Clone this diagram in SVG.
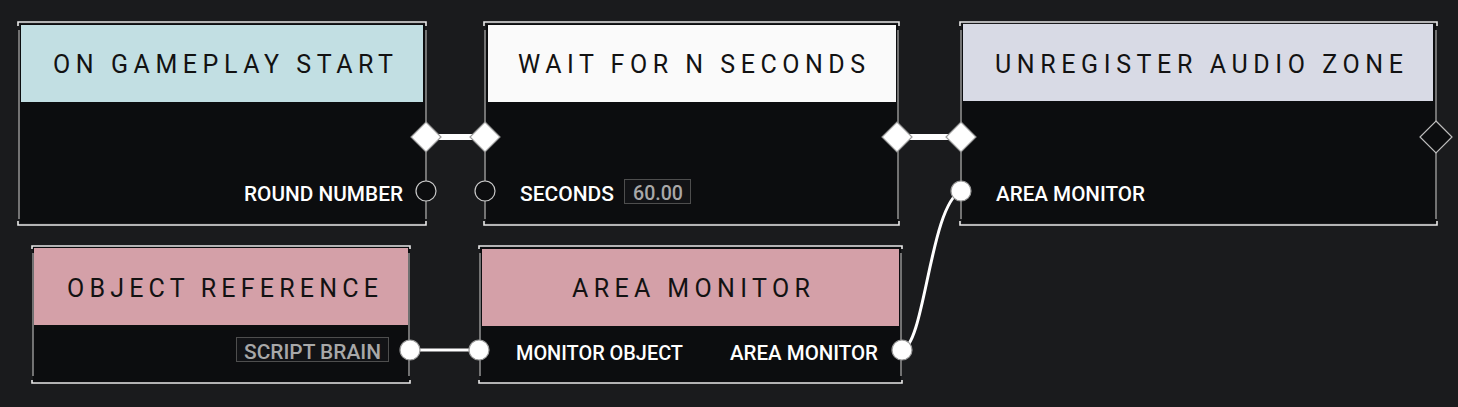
<svg xmlns="http://www.w3.org/2000/svg" width="1458" height="407" viewBox="0 0 1458 407">
<style>
.body{fill:#0c0d0f}
.edge{fill:none;stroke:#e8e8e8;stroke-width:1.6}
.side{fill:none;stroke:#8a8a8a;stroke-width:1.6}
.title{font-family:Roboto,"DejaVu Sans",sans-serif;font-size:25px;fill:#121212;font-weight:400}
.lbl{font-family:Roboto,"Liberation Sans",sans-serif;font-size:20px;fill:#ffffff;font-weight:500}
.val{font-family:Roboto,"Liberation Sans",sans-serif;font-size:20px;fill:#a8a8a8;font-weight:500}
.vbox{fill:#121316;stroke:#4e4e4e;stroke-width:1}
.execOn{fill:#ffffff;stroke:#9a9a9a;stroke-width:1.2}
.execOff{fill:#0c0d0f;stroke:#bdbdbd;stroke-width:1.2}
.pinOn{fill:#ffffff;stroke:#9a9a9a;stroke-width:1.2}
.pinOff{fill:#0c0d0f;stroke:#c8c8c8;stroke-width:1.2}
.wExec{fill:none;stroke:#ffffff;stroke-width:6}
.wData{fill:none;stroke:#ffffff;stroke-width:3}
</style>
<rect x="0" y="0" width="1458" height="407" fill="#1a1b1d"/>

<g id="connectors">
<path class="wExec" d="M426,137 H485"/>
<path class="wExec" d="M897,137 H961"/>
<path class="wData" d="M410,350 H479"/>
<path class="wData" d="M902,350 C925,345 930,205 961,191"/>
</g>

<g id="node-on-gameplay-start">
<rect class="body" x="20" y="24" width="405" height="199"/>
<rect x="21" y="25" width="402" height="77" fill="#c2dfe3"/>
<path class="edge" d="M18,26 V22 H426 V26"/>
<path class="edge" d="M18,221 V225 H426 V221"/>
<path class="side" d="M19,30 V219 M426,30 V219"/>
<text class="title" x="53" y="73" textLength="340" lengthAdjust="spacing">ON GAMEPLAY START</text>
<text class="lbl" x="244" y="201" textLength="159" lengthAdjust="spacingAndGlyphs">ROUND NUMBER</text>
<polygon class="execOn" points="426,122 441,137 426,152 411,137"/>
<circle class="pinOff" cx="426" cy="191" r="10"/>
</g>

<g id="node-wait-for-n-seconds">
<rect class="body" x="486" y="24" width="412" height="199"/>
<rect x="488" y="25" width="408" height="77" fill="#fafafa"/>
<path class="edge" d="M484,26 V22 H899 V26"/>
<path class="edge" d="M484,221 V225 H899 V221"/>
<path class="side" d="M485,30 V219 M898,30 V219"/>
<text class="title" x="518" y="73" textLength="347" lengthAdjust="spacing">WAIT FOR N SECONDS</text>
<text class="lbl" x="520" y="201" textLength="94" lengthAdjust="spacingAndGlyphs">SECONDS</text>
<rect class="vbox" x="624.5" y="179.5" width="66" height="24"/>
<text class="val" x="633" y="200" textLength="50" lengthAdjust="spacingAndGlyphs">60.00</text>
<polygon class="execOn" points="485,122 500,137 485,152 470,137"/>
<polygon class="execOn" points="897,122 912,137 897,152 882,137"/>
<circle class="pinOff" cx="485" cy="191" r="10"/>
</g>

<g id="node-unregister-audio-zone">
<rect class="body" x="962" y="24" width="474" height="199"/>
<rect x="963" y="24" width="470" height="77" fill="#d8dae5"/>
<path class="edge" d="M960,26 V22 H1437 V26"/>
<path class="edge" d="M960,221 V225 H1437 V221"/>
<path class="side" d="M961,30 V219 M1436,30 V219"/>
<text class="title" x="995" y="73" textLength="408" lengthAdjust="spacing">UNREGISTER AUDIO ZONE</text>
<text class="lbl" x="996" y="201" textLength="149" lengthAdjust="spacingAndGlyphs">AREA MONITOR</text>
<polygon class="execOn" points="961,122 976,137 961,152 946,137"/>
<polygon class="execOff" points="1436,121 1452,137 1436,153 1420,137"/>
<circle class="pinOn" cx="961" cy="191" r="10"/>
</g>

<g id="node-object-reference">
<rect class="body" x="33" y="247" width="377" height="136"/>
<rect x="34" y="248" width="374" height="77" fill="#d4a0a8"/>
<path class="edge" d="M32,249 V246 H410 V249"/>
<path class="edge" d="M32,380 V383 H410 V380"/>
<path class="side" d="M33,253 V376 M409,253 V376"/>
<text class="title" x="67" y="297" textLength="311" lengthAdjust="spacing">OBJECT REFERENCE</text>
<rect class="vbox" x="236.5" y="337.5" width="152" height="24"/>
<text class="val" x="244" y="359" textLength="137" lengthAdjust="spacingAndGlyphs">SCRIPT BRAIN</text>
<circle class="pinOn" cx="410" cy="350" r="10"/>
</g>

<g id="node-area-monitor">
<rect class="body" x="480" y="247" width="421" height="136"/>
<rect x="482" y="249" width="417" height="77" fill="#d4a0a8"/>
<path class="edge" d="M479,249 V246 H902 V249"/>
<path class="edge" d="M479,380 V383 H902 V380"/>
<path class="side" d="M480,253 V376 M901,253 V376"/>
<text class="title" x="572" y="297" textLength="238" lengthAdjust="spacing">AREA MONITOR</text>
<text class="lbl" x="516" y="360" textLength="167" lengthAdjust="spacingAndGlyphs">MONITOR OBJECT</text>
<text class="lbl" x="730" y="360" textLength="148" lengthAdjust="spacingAndGlyphs">AREA MONITOR</text>
<circle class="pinOn" cx="479" cy="350" r="10"/>
<circle class="pinOn" cx="902" cy="350" r="10"/>
</g>
</svg>
